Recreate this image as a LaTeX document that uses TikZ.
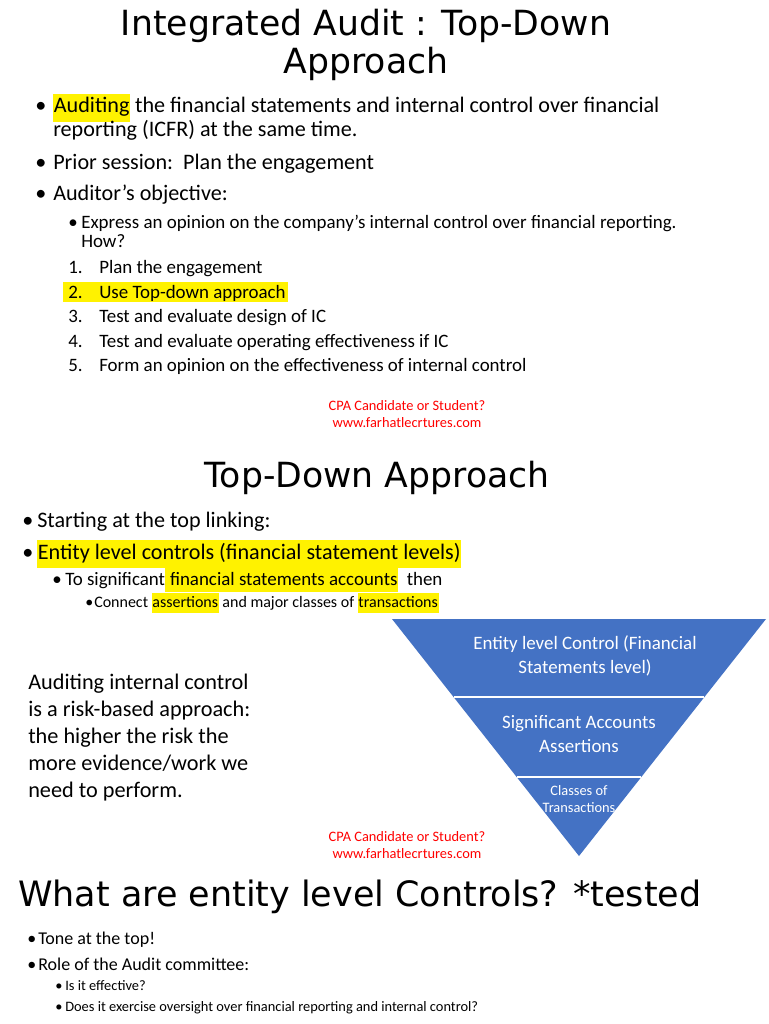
\documentclass[tikz,border=0pt]{standalone}
\usepackage{fontspec}
\setmainfont{Carlito}
\newfontfamily\titlefont{DejaVu Sans}
\definecolor{triblue}{HTML}{4472C4}
\definecolor{wred}{HTML}{FF0000}
\newcommand\hl[1]{{\setlength\fboxsep{0.5pt}\colorbox{yellow}{\strut #1}}}
\begin{document}
\begin{tikzpicture}[x=0.75pt,y=-0.75pt,
  t/.style={anchor=base west,inner sep=0pt},
  tc/.style={anchor=base,inner sep=0pt},
  big/.style={t,font=\fontsize{16.6}{20}\selectfont},
  mid/.style={t,font=\fontsize{14.2}{17}\selectfont},
  sml/.style={t,font=\fontsize{12}{14}\selectfont},
  bmid/.style={t,font=\fontsize{13.5}{16}\selectfont},
  bsml/.style={t,font=\fontsize{10.8}{13}\selectfont},
  ttl/.style={tc,font=\titlefont\fontsize{26}{30}\selectfont},
  red/.style={tc,text=wred,font=\fontsize{10.8}{13}\selectfont},
  trit/.style={align=center,text=white,inner sep=0pt}]
\useasboundingbox (0,0) rectangle (768,1024);
\fill[white] (0,0) rectangle (768,1024);
% section 1
\node[ttl] (t1a) at (366,36) {Integrated Audit : Top-Down};
\node[ttl] (t1b) at (366,74) {Approach};
\node[big] (b1) at (35,113) {\textbullet};
\node[big] (l1) at (53,113) {\hl{Auditing} the financial statements and internal control over financial};
\node[big] (l1b) at (53,137) {reporting (ICFR) at the same time.};
\node[big] (b2) at (35,169) {\textbullet};
\node[big] (l2) at (53,169) {Prior session:\ \ Plan the engagement};
\node[big] (b3) at (35,200) {\textbullet};
\node[big] (l3) at (53,200) {Auditor’s objective:};
\node[mid] (b4) at (68,228) {\textbullet};
\node[mid] (l4) at (81,228) {Express an opinion on the company's internal control over financial reporting.};
\node[mid] (l4b) at (81,247) {How?};
\node[mid] (n1) at (68,273) {1.}; \node[mid] (s1) at (99,273) {Plan the engagement};
\fill[yellow] (63,282) rectangle (288,302);
\node[mid] (n2) at (68,298) {2.}; \node[mid] (s2) at (99,298) {Use Top-down approach};
\node[mid] (n3) at (68,322) {3.}; \node[mid] (s3) at (99,322) {Test and evaluate design of IC};
\node[mid] (n4) at (68,347) {4.}; \node[mid] (s4) at (99,347) {Test and evaluate operating effectiveness if IC};
\node[mid] (n5) at (68,371) {5.}; \node[mid] (s5) at (99,371) {Form an opinion on the effectiveness of internal control};
\node[red] (r1) at (407,410) {CPA Candidate or Student?};
\node[red] (r1b) at (407,427) {www.farhatlecrtures.com};
% section 2
\node[ttl] (t2) at (377,487) {Top-Down Approach};
\node[big] (c1b) at (22,527) {\textbullet};
\node[big] (c1) at (37,527) {Starting at the top linking:};
\node[big] (c2b) at (22,559) {\textbullet};
\node[big] (c2) at (37,559) {\hl{Entity level controls (financial statement levels)}};
\node[mid] (c3b) at (52,585) {\textbullet};
\node[mid] (c3) at (65,585) {To significant\hl{ financial statements accounts}\ \ then};
\node[sml] (c4b) at (85,607) {\textbullet};
\node[sml] (c4) at (94,607) {Connect \hl{assertions} and major classes of \hl{transactions}};
\node[big,font=\fontsize{16.7}{20}\selectfont] (p1) at (28,689) {Auditing internal control};
\node[big,font=\fontsize{16.7}{20}\selectfont] (p2) at (28,716) {is a risk-based approach:};
\node[big,font=\fontsize{16.7}{20}\selectfont] (p3) at (28,743) {the higher the risk the};
\node[big,font=\fontsize{16.7}{20}\selectfont] (p4) at (28,770) {more evidence/work we};
\node[big,font=\fontsize{16.7}{20}\selectfont] (p5) at (28,797) {need to perform.};
\coordinate (A) at (392,619); \coordinate (B) at (766,619); \coordinate (C) at (579,856);
\fill[triblue] (A) -- (B) -- (C) -- cycle;
\draw[white,line width=1pt] (454,697) -- (704,697);
\draw[white,line width=1pt] (517,777) -- (641,777);
\node[trit,font=\fontsize{14.2}{17.5}\selectfont] (e1) at (585,656) {Entity level Control (Financial\\Statements level)};
\node[trit,font=\fontsize{14.2}{17.5}\selectfont] (e2) at (579,734) {Significant Accounts\\Assertions};
\node[trit,font=\fontsize{10.8}{13}\selectfont] (e3) at (579,799) {Classes of\\Transactions};
\node[red] (r2) at (407,841) {CPA Candidate or Student?};
\node[red] (r2b) at (407,858) {www.farhatlecrtures.com};
% section 3
\node[t,font=\titlefont\fontsize{26.2}{30}\selectfont] (t3) at (18,906) {What are entity level Controls? *tested};
\node[bmid] (d1b) at (27,944) {\textbullet};
\node[bmid] (d1) at (38,944) {Tone at the top!};
\node[bmid] (d2b) at (27,970) {\textbullet};
\node[bmid] (d2) at (38,970) {Role of the Audit committee:};
\node[bsml] (d3b) at (55,990) {\textbullet};
\node[bsml] (d3) at (65,990) {Is it effective?};
\node[bsml] (d4b) at (55,1011) {\textbullet};
\node[bsml] (d4) at (65,1011) {Does it exercise oversight over financial reporting and internal control?};
\end{tikzpicture}
\end{document}
